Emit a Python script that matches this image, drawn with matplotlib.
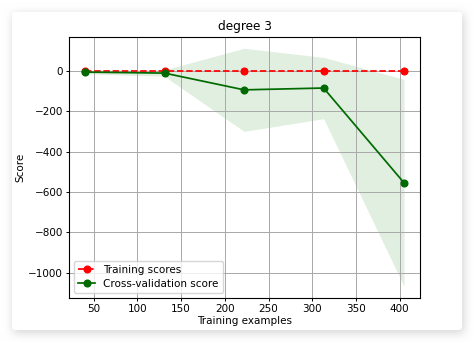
import numpy as np
import matplotlib
matplotlib.use("Agg")
import matplotlib.pyplot as plt
from matplotlib.patches import FancyBboxPatch

# Learning-curve data
train_sizes = [40, 131, 222, 313, 405]
train_mean = [0.0, 0.0, 0.0, 0.0, 0.0]
train_std = [0.5, 0.5, 0.5, 0.5, 0.5]
test_mean = [-5, -10, -93, -84, -554]
test_std = [8, 16, 206, 152, 513]

W, H, DPI = 474, 342, 100
fig = plt.figure(figsize=(W / DPI, H / DPI), dpi=DPI)
fig.patch.set_facecolor("white")

# Soft drop shadow behind a white card
card = (12, 12, 462, 330)  # x0, y0, x1, y1 in pixels from top-left
mask = np.zeros((H, W))
mask[card[1] + 2:card[3] + 3, card[0] + 1:card[2] + 2] = 1.0


def box_blur(a, r, axis):
    k = np.ones(2 * r + 1) / (2 * r + 1)
    return np.apply_along_axis(lambda v: np.convolve(v, k, mode="same"), axis, a)


for _ in range(3):
    mask = box_blur(mask, 4, 0)
    mask = box_blur(mask, 4, 1)
shade = 1.0 - 0.16 * mask
img = np.dstack([shade, shade, shade])
fig.figimage(img[::-1], xo=0, yo=0, origin="lower", zorder=0)

fig.patches.append(FancyBboxPatch(
    (card[0] / W, 1 - card[3] / H),
    (card[2] - card[0]) / W, (card[3] - card[1]) / H,
    boxstyle="round,pad=0,rounding_size=0.008",
    transform=fig.transFigure, facecolor="white", edgecolor="none", zorder=0.5))

ax = fig.add_axes([69 / W, 1 - 298 / H, (420 - 69) / W, (298 - 37) / H], zorder=2)

fs = 7.5
lw = 1.25
ms = 4.8
green = "#006a00"

ax.grid(True, color="#a8a8a8", linewidth=0.7)
tm = np.array(train_mean); ts = np.array(train_std)
vm = np.array(test_mean); vs = np.array(test_std)
ax.fill_between(train_sizes, tm - ts, tm + ts, alpha=0.1, color="r", linewidth=0)
ax.fill_between(train_sizes, vm - vs, vm + vs, alpha=0.12, color="g", linewidth=0)
ax.plot(train_sizes, train_mean, "o--", color="r", lw=lw, ms=ms, label="Training scores")
ax.plot(train_sizes, test_mean, "o-", color=green, lw=lw, ms=ms, label="Cross-validation score")

ax.set_ylim(-1125, 169)
ax.set_xticks([50, 100, 150, 200, 250, 300, 350, 400])
ax.set_yticks([-1000, -800, -600, -400, -200, 0])
ax.tick_params(labelsize=fs, width=0.7, length=2.5, pad=2)
for s in ax.spines.values():
    s.set_linewidth(0.8)
ax.set_title("degree 3", fontsize=8.7, pad=5)
ax.set_xlabel("Training examples", fontsize=fs, labelpad=1.5)
ax.set_ylabel("Score", fontsize=fs, labelpad=2)
ax.legend(loc="lower left", fontsize=fs, handlelength=1.6, borderpad=0.4,
          labelspacing=0.35, framealpha=0.8)

fig.savefig("out.png", dpi=DPI)
